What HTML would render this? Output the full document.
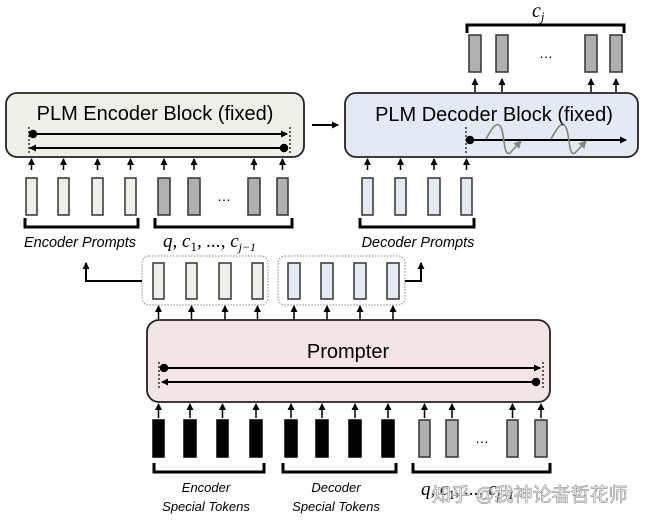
<!DOCTYPE html>
<html><head><meta charset="utf-8"><style>
html,body{margin:0;padding:0;background:#fff;}
svg{display:block;}
text{font-family:"Liberation Sans","DejaVu Sans",sans-serif;}
.it{font-style:italic;}
.m{font-family:"Liberation Serif",serif;font-style:italic;}
</style></head><body>
<svg width="648" height="522" viewBox="0 0 648 522" xmlns="http://www.w3.org/2000/svg">
<defs>
<marker id="a" markerWidth="8" markerHeight="8" refX="6" refY="4" orient="auto" markerUnits="userSpaceOnUse"><path d="M0,0.5 L7,4 L0,7.5 z" fill="#000"/></marker>
<marker id="g" markerWidth="10" markerHeight="10" refX="7" refY="5" orient="auto" markerUnits="userSpaceOnUse"><path d="M0,1 L8,5 L0,9 z" fill="#7a8a78"/></marker>
</defs>
<g stroke="#000" stroke-width="1.5" fill="none">
<rect x="6" y="93" width="298" height="64" rx="11" fill="#eef0e8" stroke="#222" stroke-width="1.8"/>
<line x1="33" y1="134" x2="287" y2="134" stroke-width="2" marker-end="url(#a)"/>
<line x1="284" y1="148" x2="30" y2="148" stroke-width="2" marker-end="url(#a)"/>
<circle cx="33" cy="134" r="3.5" fill="#000"/><circle cx="284" cy="148" r="3.5" fill="#000"/>
<line x1="29" y1="127" x2="29" y2="154" stroke-dasharray="2,2" stroke-width="1.2"/>
<line x1="290" y1="127" x2="290" y2="154" stroke-dasharray="2,2" stroke-width="1.2"/>
<line x1="312" y1="125" x2="338" y2="125" stroke-width="2" marker-end="url(#a)"/>
<rect x="345" y="93" width="293" height="64" rx="11" fill="#e4eaf3" stroke="#222" stroke-width="1.8"/>
<line x1="470" y1="140" x2="626" y2="140" stroke-width="2" marker-end="url(#a)"/>
<circle cx="470" cy="140" r="3.5" fill="#000"/>
<line x1="466" y1="127" x2="466" y2="153" stroke-dasharray="2,2" stroke-width="1.2"/>
<path d="M486,139 C492,128 498,118 502,130 C505,142 504,156 510,153 L521,141" stroke="#7a8a78" stroke-width="1.6" marker-end="url(#g)"/>
<path d="M551,139 C557,128 563,118 567,130 C570,142 569,156 575,153 L586,141" stroke="#7a8a78" stroke-width="1.6" marker-end="url(#g)"/>
</g>
<text x="155" y="120" font-size="20" text-anchor="middle">PLM Encoder Block (fixed)</text>
<text x="494" y="121" font-size="20" text-anchor="middle">PLM Decoder Block (fixed)</text>
<g stroke="#000" stroke-width="1.5" fill="none">
<g marker-end="url(#a)">
<line x1="31.5" y1="170" x2="31.5" y2="159"/><line x1="63.5" y1="170" x2="63.5" y2="159"/><line x1="97.5" y1="170" x2="97.5" y2="159"/><line x1="130.5" y1="170" x2="130.5" y2="159"/>
<line x1="164" y1="170" x2="164" y2="159"/><line x1="194" y1="170" x2="194" y2="159"/><line x1="254" y1="170" x2="254" y2="159"/><line x1="282.5" y1="170" x2="282.5" y2="159"/>
<line x1="367.5" y1="170" x2="367.5" y2="159"/><line x1="400.5" y1="170" x2="400.5" y2="159"/><line x1="434" y1="170" x2="434" y2="159"/><line x1="466.5" y1="170" x2="466.5" y2="159"/>
<line x1="475" y1="92" x2="475" y2="79"/><line x1="502" y1="92" x2="502" y2="79"/><line x1="591" y1="92" x2="591" y2="79"/><line x1="616" y1="92" x2="616" y2="79"/>
</g>
<g fill="#eef0e8" stroke="#333">
<rect x="26" y="178" width="11" height="37"/><rect x="58" y="178" width="11" height="37"/><rect x="92" y="178" width="11" height="37"/><rect x="125" y="178" width="11" height="37"/>
</g>
<g fill="#b0b0b0" stroke="#333">
<rect x="158" y="178" width="12" height="37"/><rect x="188" y="178" width="12" height="37"/><rect x="248" y="178" width="12" height="37"/><rect x="277" y="178" width="11" height="37"/>
<rect x="469" y="35" width="12" height="37"/><rect x="496" y="35" width="12" height="37"/><rect x="585" y="35" width="12" height="37"/><rect x="610" y="35" width="12" height="37"/>
</g>
<g fill="#e4eaf3" stroke="#333">
<rect x="362" y="178" width="11" height="37"/><rect x="395" y="178" width="11" height="37"/><rect x="428" y="178" width="12" height="37"/><rect x="461" y="178" width="11" height="37"/>
</g>
<g stroke-width="3">
<path d="M25,218 V227 H138 V218"/><path d="M155,218 V227 H292 V218"/><path d="M360,218 V227 H474 V218"/>
<path d="M467,33 V25 H624 V33"/>
<path d="M154,463 V472 H264 V463"/><path d="M283,463 V472 H396 V463"/><path d="M413,463 V472 H550 V463"/>
</g>
<rect x="142" y="256" width="126" height="49" rx="7" stroke="#888" stroke-dasharray="1.5,1.5" stroke-width="1"/>
<rect x="278" y="256" width="127" height="49" rx="7" stroke="#888" stroke-dasharray="1.5,1.5" stroke-width="1"/>
<g fill="#eef0e8" stroke="#333">
<rect x="153" y="263" width="11" height="36"/><rect x="186" y="263" width="11" height="36"/><rect x="219" y="263" width="12" height="36"/><rect x="252" y="263" width="11" height="36"/>
</g>
<g fill="#e4eaf3" stroke="#333">
<rect x="288" y="263" width="12" height="36"/><rect x="321" y="263" width="12" height="36"/><rect x="354" y="263" width="12" height="36"/><rect x="387" y="263" width="12" height="36"/>
</g>
<path d="M142,281 H86 V263" stroke-width="2" marker-end="url(#a)"/>
<path d="M405,281 H421 V263" stroke-width="2" marker-end="url(#a)"/>
<g marker-end="url(#a)">
<line x1="158.5" y1="320" x2="158.5" y2="306"/><line x1="191.5" y1="320" x2="191.5" y2="306"/><line x1="225" y1="320" x2="225" y2="306"/><line x1="257.5" y1="320" x2="257.5" y2="306"/>
<line x1="294" y1="320" x2="294" y2="306"/><line x1="327" y1="320" x2="327" y2="306"/><line x1="360" y1="320" x2="360" y2="306"/><line x1="393" y1="320" x2="393" y2="306"/>
</g>
<rect x="147" y="320" width="403" height="82" rx="12" fill="#f3e4e6" stroke="#222" stroke-width="1.8"/>
<line x1="164" y1="368" x2="540" y2="368" stroke-width="2" marker-end="url(#a)"/>
<line x1="537" y1="382" x2="162" y2="382" stroke-width="2" marker-end="url(#a)"/>
<circle cx="164" cy="368" r="3.5" fill="#000"/><circle cx="536" cy="382" r="3.5" fill="#000"/>
<line x1="159" y1="362" x2="159" y2="388" stroke-dasharray="2,2" stroke-width="1.2"/>
<line x1="543" y1="362" x2="543" y2="388" stroke-dasharray="2,2" stroke-width="1.2"/>
<g marker-end="url(#a)">
<line x1="158.5" y1="418" x2="158.5" y2="404"/><line x1="190" y1="418" x2="190" y2="404"/><line x1="222.5" y1="418" x2="222.5" y2="404"/><line x1="256" y1="418" x2="256" y2="404"/>
<line x1="291" y1="418" x2="291" y2="404"/><line x1="322" y1="418" x2="322" y2="404"/><line x1="355" y1="418" x2="355" y2="404"/><line x1="388" y1="418" x2="388" y2="404"/>
<line x1="424.5" y1="418" x2="424.5" y2="404"/><line x1="452" y1="418" x2="452" y2="404"/><line x1="512.5" y1="418" x2="512.5" y2="404"/><line x1="541" y1="418" x2="541" y2="404"/>
</g>
<g fill="#000" stroke="#000">
<rect x="153" y="420" width="11" height="37"/><rect x="184" y="420" width="12" height="37"/><rect x="217" y="420" width="11" height="37"/><rect x="250" y="420" width="12" height="37"/>
<rect x="285" y="420" width="12" height="37"/><rect x="316" y="420" width="12" height="37"/><rect x="349" y="420" width="12" height="37"/><rect x="382" y="420" width="12" height="37"/>
</g>
<g fill="#b0b0b0" stroke="#333">
<rect x="419" y="420" width="11" height="37"/><rect x="446" y="420" width="12" height="37"/><rect x="507" y="420" width="11" height="37"/><rect x="535" y="420" width="12" height="37"/>
</g>
</g>
<text x="348" y="358" font-size="20" text-anchor="middle">Prompter</text>
<g font-size="14" text-anchor="middle">
<text x="224" y="201">…</text><text x="546" y="58">…</text><text x="482" y="443">…</text>
</g>
<text x="80" y="247" font-size="14.5" class="it" text-anchor="middle">Encoder Prompts</text>
<text x="418" y="247" font-size="14.5" class="it" text-anchor="middle">Decoder Prompts</text>
<text x="163" y="247" font-size="19" class="m">q, c<tspan font-size="13" dy="4" font-style="normal">1</tspan><tspan dy="-4">, ..., c</tspan><tspan font-size="12" dy="4">j−1</tspan></text>
<text x="532" y="17" font-size="20" class="m">c<tspan font-size="13" dy="4">j</tspan></text>
<g font-size="13" class="it" text-anchor="middle">
<text x="206" y="492">Encoder</text><text x="206" y="511">Special Tokens</text>
<text x="336" y="492">Decoder</text><text x="336" y="511">Special Tokens</text>
</g>
<text x="421" y="495" font-size="19" class="m">q, c<tspan font-size="13" dy="4" font-style="normal">1</tspan><tspan dy="-4">, ..., c</tspan><tspan font-size="12" dy="4">j−1</tspan></text>
<text x="432" y="501" font-size="19" fill="#fff" fill-opacity="0.6" stroke="#999" stroke-width="0.7" style='font-family:"Liberation Sans","Noto Sans CJK SC",sans-serif'>知乎 @我神论者哲花师</text>
</svg>
</body></html>
